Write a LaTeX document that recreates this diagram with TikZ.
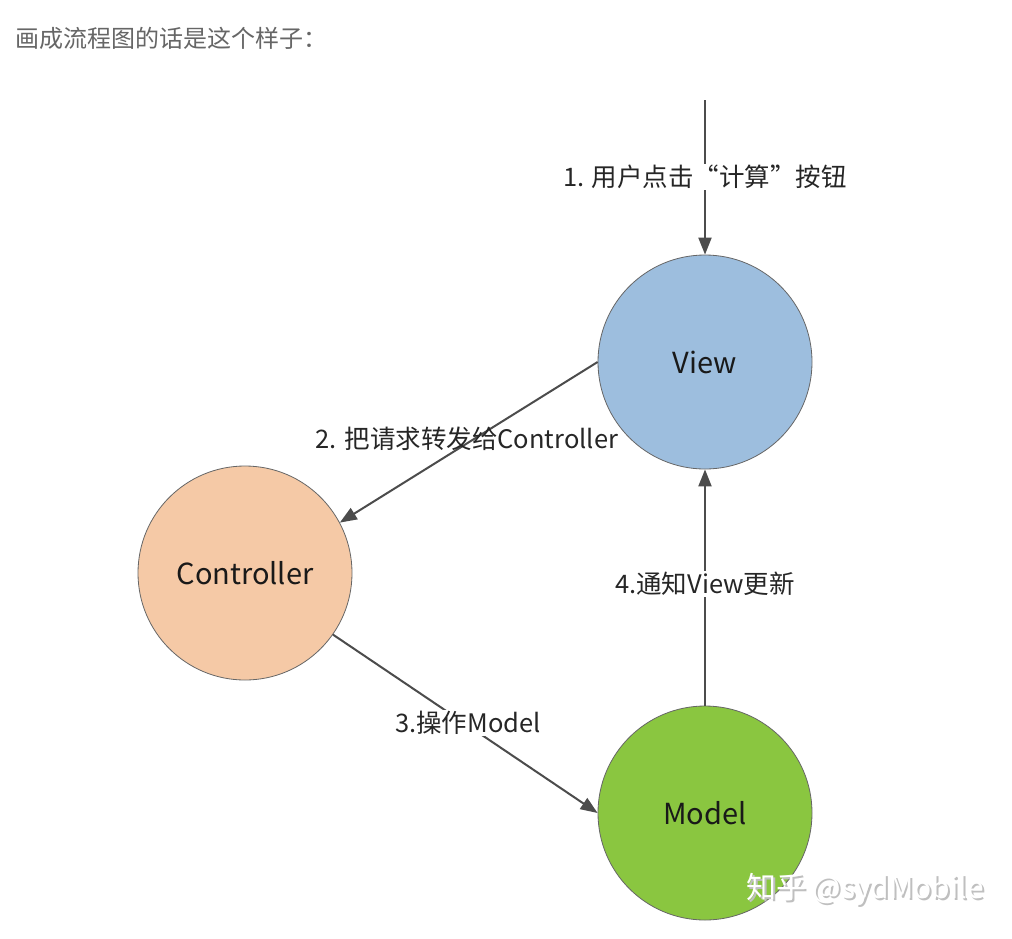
\documentclass[tikz,border=0pt]{standalone}
\usepackage{fontspec}
\setmainfont{Noto Sans CJK SC}
\usetikzlibrary{arrows.meta}
\begin{document}
\begin{tikzpicture}[x=1pt,y=-1pt,
  circ/.style={circle,draw=black!60,line width=0.8pt,minimum size=214pt,inner sep=0pt,font=\fontsize{29}{32}\selectfont,text=black!90},
  conn/.style={draw=black!70,line width=2pt,-{Triangle[length=17pt,width=13pt]}},
  lbl/.style={fill=white,inner sep=1pt,font=\fontsize{25.5}{28}\selectfont,text=black!85}]
\useasboundingbox[fill=white] (0,0) rectangle (1012,938);
\node[anchor=west,text=black!60,font=\fontsize{24}{28}\selectfont] (title) at (12,38) {画成流程图的话是这个样子：};
\node[circ,fill={rgb,255:red,157;green,190;blue,222}] (view) at (705,362) {View};
\node[circ,fill={rgb,255:red,245;green,201;blue,166}] (ctrl) at (245,573) {Controller};
\node[circ,fill={rgb,255:red,138;green,198;blue,64}] (model) at (705,813) {Model};
\coordinate (top) at (705,100);
\draw[conn] (top) -- (view.north);
\draw[conn] (view.west) -- (ctrl.28);
\draw[conn] (ctrl.-35) -- (model.west);
\draw[conn] (model.north) -- (view.south);
\node[lbl] (l1) at (705,177) {1. 用户点击“计算”按钮};
\node[lbl,fill=none] (l2) at (467,439) {2. 把请求转发给Controller};
\node[lbl] (l3) at (468,723) {3.操作Model};
\node[lbl] (l4) at (705,584) {4.通知View更新};
\node[text=black!25,font=\fontsize{30}{32}\selectfont] (wm1) at (867,891) {知乎 @sydMobile};
\node[text=white,font=\fontsize{30}{32}\selectfont] (wm) at (865,889) {知乎 @sydMobile};
\end{tikzpicture}
\end{document}
